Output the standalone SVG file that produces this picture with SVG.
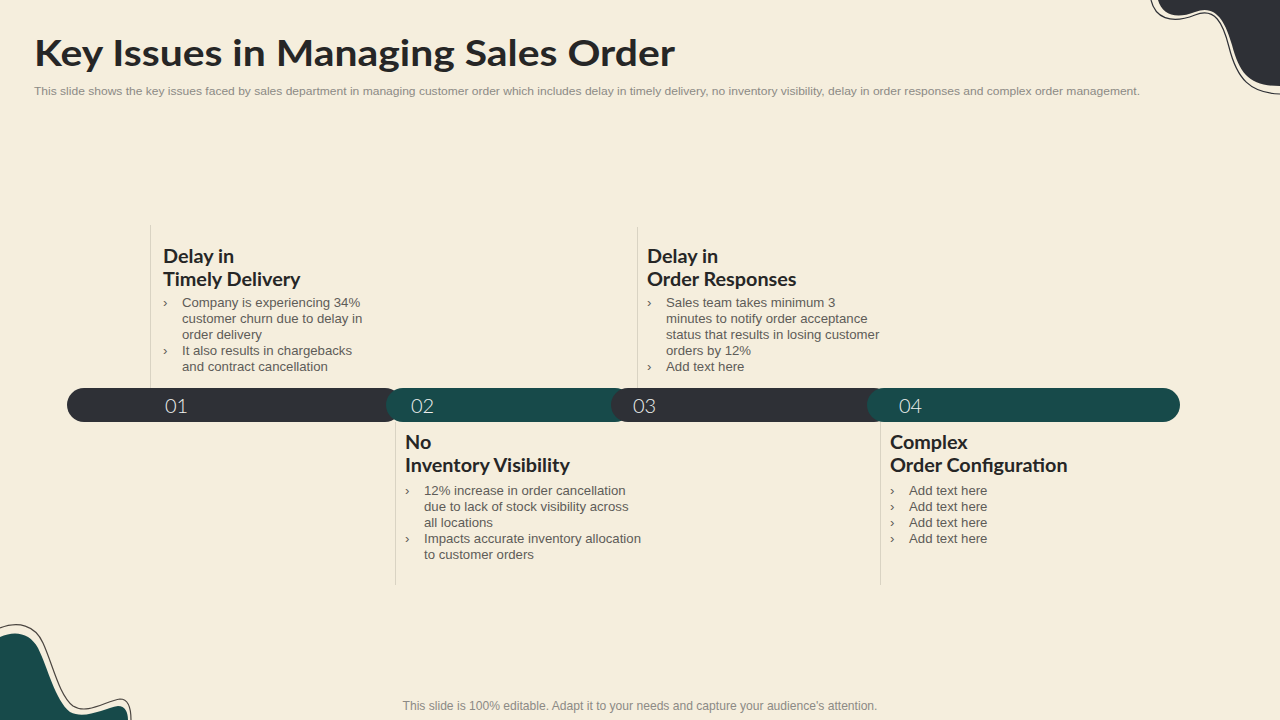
<svg xmlns="http://www.w3.org/2000/svg" width="1280" height="720" viewBox="0 0 1280 720">
<style>
.title{font-family:"Lato","Liberation Sans",sans-serif;font-weight:700;font-size:37px;fill:#262626}
.sub{font-family:"Liberation Sans",Arial,sans-serif;font-size:11px;fill:#8c8a85}
.head{font-family:"Lato","Liberation Sans",sans-serif;font-weight:700;font-size:19.8px;fill:#262626}
.body{font-family:"Liberation Sans",Arial,sans-serif;font-size:13.2px;fill:#5e5c58}
.num{font-family:"Lato","Liberation Sans",sans-serif;font-weight:300;font-size:20px;fill:#eef0ee}
.foot{font-family:"Liberation Sans",Arial,sans-serif;font-size:12.1px;fill:#8c8a85}
.vline{stroke:#d9d3c3;stroke-width:1;fill:none}
.dark{fill:#2e3036}
.teal{fill:#174a4a}
</style>
<rect width="1280" height="720" fill="#f5eedd"/>
<g id="decor">
<path d="M1158,0 C1162,14 1175,20 1195,12 C1215,4 1225,20 1232,45 C1240,75 1250,86 1280,86 L1280,0 Z" class="dark"/>
<path d="M1151,0 C1155,17 1170,25 1195,15 C1215,7 1223,23 1229,47 C1237,79 1250,93 1280,94" fill="none" stroke="#2e3036" stroke-width="1.2"/>
<path d="M0,637 C15,630 30,633 38,648 C48,668 55,700 70,712 C85,720 105,708 118,706 C125,706 128,712 128,720 L0,720 Z" class="teal"/>
<path d="M0,628 C18,621 35,625 43,643 C53,665 59,695 73,706 C87,715 106,701 120,699 C128,699 131,708 131,720" fill="none" stroke="#4a4540" stroke-width="1.2"/>
</g>
<text class="title" x="34" y="66" textLength="641" lengthAdjust="spacingAndGlyphs">Key Issues in Managing Sales Order</text>
<text class="sub" x="34" y="95" textLength="1106" lengthAdjust="spacingAndGlyphs">This slide shows the key issues faced by sales department in managing customer order which includes delay in timely delivery, no inventory visibility, delay in order responses and complex order management.</text>
<g id="connectors">
<line class="vline" x1="150.5" y1="225" x2="150.5" y2="388"/>
<line class="vline" x1="637.5" y1="227" x2="637.5" y2="388"/>
<line class="vline" x1="395.5" y1="422" x2="395.5" y2="585"/>
<line class="vline" x1="880.5" y1="422" x2="880.5" y2="585"/>
</g>
<g id="bar">
<rect class="dark" x="67" y="388" width="335" height="34" rx="17"/>
<rect class="teal" x="386" y="388" width="246" height="34" rx="17"/>
<rect class="dark" x="611" y="388" width="280" height="34" rx="17"/>
<rect class="teal" x="867" y="388" width="313" height="34" rx="17"/>
</g>
<g id="node1">
<text class="num" x="165" y="413">01</text>
<text class="head" x="163" y="263">Delay in</text>
<text class="head" x="163" y="286">Timely Delivery</text>
<text class="body"><tspan x="163" y="307">›</tspan><tspan x="182" y="307">Company is experiencing 34%</tspan><tspan x="182" y="323">customer churn due to delay in</tspan><tspan x="182" y="339">order delivery</tspan><tspan x="163" y="355">›</tspan><tspan x="182" y="355">It also results in chargebacks</tspan><tspan x="182" y="371">and contract cancellation</tspan></text>
</g>
<g id="node2">
<text class="num" x="411" y="413">02</text>
<text class="head" x="405" y="449">No</text>
<text class="head" x="405" y="472">Inventory Visibility</text>
<text class="body"><tspan x="405" y="495">›</tspan><tspan x="424" y="495">12% increase in order cancellation</tspan><tspan x="424" y="511">due to lack of stock visibility across</tspan><tspan x="424" y="527">all locations</tspan><tspan x="405" y="543">›</tspan><tspan x="424" y="543">Impacts accurate inventory allocation</tspan><tspan x="424" y="559">to customer orders</tspan></text>
</g>
<g id="node3">
<text class="num" x="633" y="413">03</text>
<text class="head" x="647" y="263">Delay in</text>
<text class="head" x="647" y="286">Order Responses</text>
<text class="body"><tspan x="647" y="307">›</tspan><tspan x="666" y="307">Sales team takes minimum 3</tspan><tspan x="666" y="323">minutes to notify order acceptance</tspan><tspan x="666" y="339">status that results in losing customer</tspan><tspan x="666" y="355">orders by 12%</tspan><tspan x="647" y="371">›</tspan><tspan x="666" y="371">Add text here</tspan></text>
</g>
<g id="node4">
<text class="num" x="899" y="413">04</text>
<text class="head" x="890" y="449">Complex</text>
<text class="head" x="890" y="472">Order Configuration</text>
<text class="body"><tspan x="890" y="495">›</tspan><tspan x="909" y="495">Add text here</tspan><tspan x="890" y="511">›</tspan><tspan x="909" y="511">Add text here</tspan><tspan x="890" y="527">›</tspan><tspan x="909" y="527">Add text here</tspan><tspan x="890" y="543">›</tspan><tspan x="909" y="543">Add text here</tspan></text>
</g>
<text class="foot" x="640" y="710" text-anchor="middle">This slide is 100% editable. Adapt it to your needs and capture your audience's attention.</text>
</svg>
